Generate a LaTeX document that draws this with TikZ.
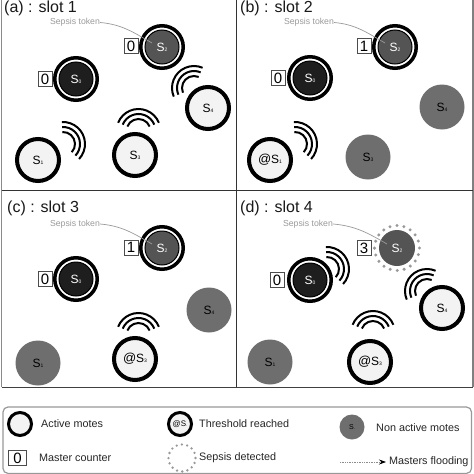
\documentclass[tikz,border=0pt]{standalone}
\usepackage{fontspec}
\setmainfont{Liberation Sans}
\usetikzlibrary{arrows.meta,calc}
\definecolor{activefill}{HTML}{F3F3F3}
\definecolor{masterdark}{HTML}{1E1E1E}
\definecolor{mastergray}{HTML}{545454}
\definecolor{inactivefill}{HTML}{6E6E6E}
\definecolor{tokengray}{HTML}{9A9A9A}
\definecolor{framegray}{HTML}{8A8A8A}
\newcommand\mlab[1]{{\fontsize{12}{12}\selectfont S}{\fontsize{5}{5}\selectfont #1}}
\newcommand\alab[1]{{\fontsize{13}{13}\selectfont @}\mlab{#1}}
\newcommand\wavesat[3]{\foreach \rr in {12,17,22}{\draw[wave] (#1,-#2) ++(#3+68:\rr) arc[start angle=#3+68, end angle=#3-68, radius=\rr];}}
\newcommand\mastermote[5]{%
  \draw[ringline] (#2,-#3) circle (21.25);
  \node[masterin, fill=#4] (#1) at (#2,-#3) {\mlab{#5}};}
\tikzset{
  activemote/.style={circle, draw=black, line width=4pt, fill=activefill, minimum size=42pt, inner sep=0pt, text=black},
  inactivemote/.style={circle, fill=inactivefill, minimum size=45pt, inner sep=0pt, text=black},
  masterin/.style={circle, draw=black, line width=1pt, minimum size=34pt, inner sep=0pt, text=white},
  ringline/.style={draw=black, line width=3.5pt},
  wave/.style={draw=black, line width=2pt},
  counterbox/.style={draw=black!70, line width=0.8pt, fill=white, minimum width=14pt, minimum height=15pt, inner sep=0pt, font=\fontsize{15}{15}\selectfont},
  paneltitle/.style={anchor=base west, inner sep=0pt, font=\fontsize{16}{16}\selectfont, text=black!90},
  tokentext/.style={inner sep=0pt, font=\fontsize{8.7}{9}\selectfont, text=tokengray},
  tokenline/.style={draw=tokengray, line width=0.7pt},
  sepsisdots/.style={draw=black!40, line width=3.3pt, line cap=round, dash pattern=on 0pt off 7.07pt},
  legtext/.style={anchor=west, inner sep=0pt, font=\fontsize{10.8}{11}\selectfont, text=black!85},
}
\begin{document}
\begin{tikzpicture}[x=1pt,y=1pt]
\useasboundingbox (0,0) rectangle (474,-474);
\fill[white] (0,0) rectangle (474,-474);
% frames
\draw[framegray, line width=1pt] (1.5,0) -- (1.5,-387.3);
\draw[black!50, line width=2pt] (472.8,0) -- (472.8,-387.3);
\draw[black!75, line width=0.8pt] (1.5,-387.3) -- (473,-387.3);
\draw[black!80, line width=0.8pt] (1.5,-190.7) -- (473,-190.7);
\draw[black!80, line width=0.8pt] (236.7,0) -- (236.7,-387.3);
\draw[black!40, line width=1.2pt, rounded corners=5pt] (3,-407) rectangle (471.5,-473.4);

% ---------- panel (a)
\node[paneltitle] (ta) at (4,-12.7) {(a) : slot 1};
\node[tokentext] (tka) at (75,-22.5) {Sepsis token};
\node[counterbox] (ca2) at (131,-46) {0};
\node[counterbox] (ca0) at (45,-79) {0};
\mastermote{s2a}{162}{47}{mastergray}{2}
\mastermote{s0a}{76}{79}{masterdark}{0}
\node[activemote] (s1a) at (38,-160) {\mlab{1}};
\node[activemote] (s3a) at (135,-155) {\mlab{3}};
\node[activemote] (s4a) at (208,-108) {\mlab{4}};
\wavesat{63}{144}{25}
\wavesat{138.5}{131}{90}
\wavesat{194}{88}{135}
\draw[tokenline] (tka.east) to[out=-5,in=150] ($(s2a)+(-10,4)$);

% ---------- panel (b)
\node[paneltitle] (tb) at (240,-12.7) {(b) : slot 2};
\node[tokentext] (tkb) at (309,-22.5) {Sepsis token};
\node[counterbox] (cb2) at (364,-46) {1};
\node[counterbox] (cb0) at (278,-78) {0};
\mastermote{s2b}{395}{47}{mastergray}{2}
\mastermote{s0b}{310}{78}{masterdark}{0}
\node[inactivemote] (s4b) at (442,-107) {\mlab{4}};
\node[inactivemote] (s3b) at (368,-157) {\mlab{3}};
\node[activemote] (s1b) at (270,-160) {\alab{1}};
\wavesat{295}{144}{25}
\draw[tokenline] (tkb.east) to[out=-5,in=150] ($(s2b)+(-10,4)$);

% ---------- panel (c)
\node[paneltitle] (tc) at (7,-212.7) {(c) : slot 3};
\node[tokentext] (tkc) at (75,-224) {Sepsis token};
\node[counterbox] (cc2) at (131,-247.5) {1};
\node[counterbox] (cc0) at (45,-279) {0};
\mastermote{s2c}{162}{248}{mastergray}{2}
\mastermote{s0c}{76}{279}{masterdark}{0}
\node[inactivemote] (s4c) at (209,-310) {\mlab{4}};
\node[inactivemote] (s1c) at (38,-363) {\mlab{1}};
\node[activemote] (s3c) at (135,-359) {\alab{3}};
\wavesat{138.5}{335}{90}
\draw[tokenline] (tkc.east) to[out=-5,in=150] ($(s2c)+(-10,4)$);

% ---------- panel (d)
\node[paneltitle] (td) at (240,-212.5) {(d) : slot 4};
\node[tokentext] (tkd) at (308,-224) {Sepsis token};
\node[counterbox] (cd2) at (364,-248) {3};
\node[counterbox] (cd0) at (277,-280) {0};
\node[masterin, draw=none, fill=mastergray, minimum size=36pt] (s2d) at (397,-248) {\mlab{2}};
\draw[sepsisdots] (s2d.center) circle (22.5);
\mastermote{s0d}{310}{280}{masterdark}{0}
\node[activemote] (s4d) at (442,-308) {\mlab{4}};
\node[activemote] (s3d) at (370,-362) {\alab{3}};
\node[inactivemote] (s1d) at (270,-362) {\mlab{1}};
\wavesat{327}{269}{25}
\wavesat{427}{291}{135}
\wavesat{373}{333}{90}
\draw[tokenline] (tkd.east) to[out=-5,in=150] ($(s2d)+(-10,4)$);

% ---------- legend
\node[activemote, minimum size=23pt, line width=3pt] (la) at (20,-424) {};
\node[legtext] (lat) at (41,-424) {Active motes};
\node[counterbox, minimum width=18pt] (lc) at (17.5,-458) {0};
\node[legtext] (lct) at (39,-458) {Master counter};
\node[activemote, minimum size=23pt, line width=3pt] (lt) at (180,-424) {{\fontsize{8}{8}\selectfont @S}{\fontsize{4}{4}\selectfont .}};
\node[legtext] (ltt) at (199,-424) {Threshold reached};
\node[circle, minimum size=27pt, inner sep=0pt] (ld) at (182,-458) {};
\draw[black!40, line width=2.6pt, line cap=round, dash pattern=on 0pt off 5.3pt] (ld.center) circle (13.5);
\node[legtext] (ldt) at (199,-458) {Sepsis detected};
\node[inactivemote, minimum size=25pt] (ln) at (352,-427) {{\fontsize{7}{7}\selectfont S}{\fontsize{4}{4}\selectfont .}};
\node[legtext] (lnt) at (376,-428) {Non active motes};
\coordinate (fa) at (340,-462);
\coordinate (fb) at (386,-462);
\draw[black!45, line width=0.7pt, densely dotted, -{Stealth[length=7pt,width=5pt,black]}] (fa) -- (fb);
\node[legtext] (lft) at (389,-462) {Masters flooding};
\end{tikzpicture}
\end{document}
